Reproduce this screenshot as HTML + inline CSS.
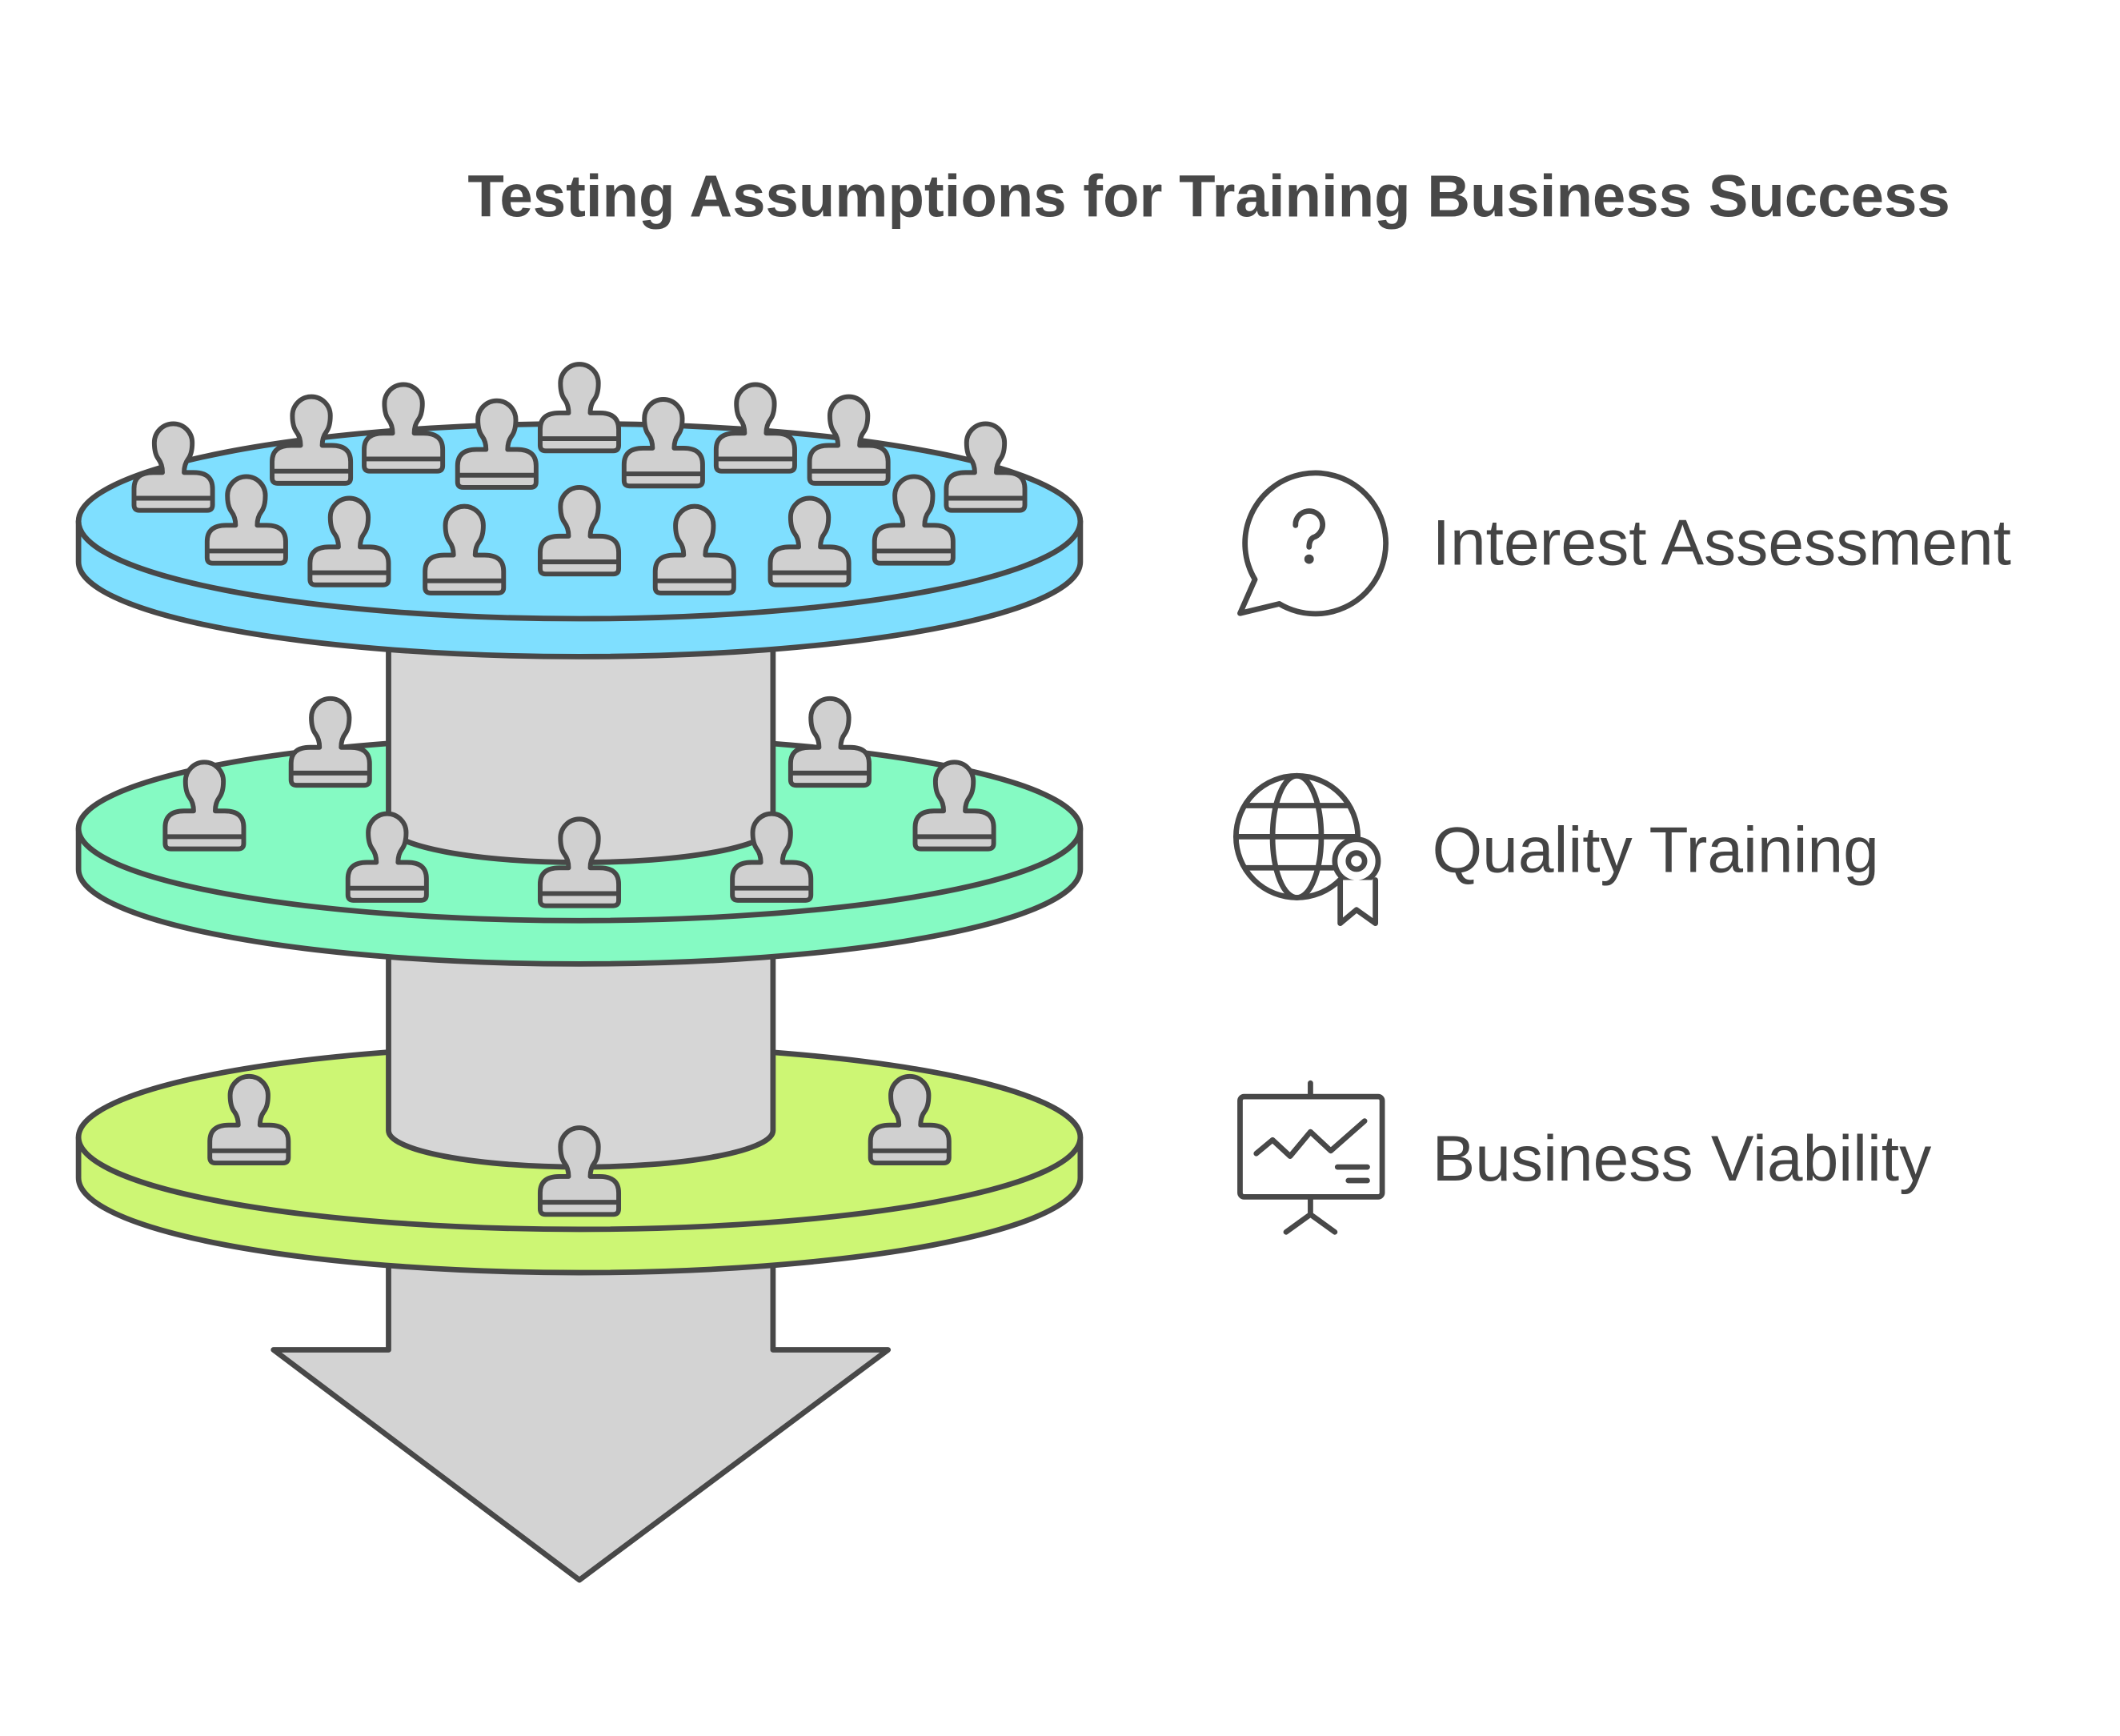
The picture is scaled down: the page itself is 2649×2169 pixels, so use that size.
<!DOCTYPE html>
<html><head><meta charset="utf-8"><style>html,body{margin:0;padding:0;background:#fff}svg{display:block}</style></head>
<body>
<svg width="2649" height="2169" viewBox="0 0 1566 1282.25" xmlns="http://www.w3.org/2000/svg" font-family="Liberation Sans, sans-serif">
<defs>
<g id="p" stroke="#484848" stroke-width="3.5" fill="#d0d0d0" stroke-linejoin="round">
<path d="M-29,-2 V-14 Q-29,-26 -15,-26 H-8 Q-8,-32 -11,-36 Q-14,-40 -14,-48 A14,14 0 0 1 14,-48 Q14,-40 11,-36 Q8,-32 8,-26 H15 Q29,-26 29,-14 V-2 Q29,2 25,2 H-25 Q-29,2 -29,-2 Z"/>
<path d="M-29,-7 H29" fill="none"/>
</g>
</defs>
<text x="893" y="160" text-anchor="middle" font-size="44" font-weight="bold" fill="#484848">Testing Assumptions for Training Business Success</text>
<g stroke="#484848" stroke-width="4" stroke-linejoin="round">
<path d="M287,930 V997 H202 L428,1167 L656,997 H571 V930 Z" fill="#d3d3d3"/>
<path d="M58,840 V870 A370,70 0 0 0 798,870 V840 Z" fill="#cdf674"/>
<ellipse cx="428" cy="840" rx="370" ry="68" fill="#cdf674"/>
<path d="M287,700 V835 A142,27 0 0 0 571,835 V700" fill="#d6d6d6"/>
<path d="M58,612 V642 A370,70 0 0 0 798,642 V612 Z" fill="#85fac3"/>
<ellipse cx="428" cy="612" rx="370" ry="68" fill="#85fac3"/>
<path d="M287,470 V610 A142,27 0 0 0 571,610 V470" fill="#d6d6d6"/>
<path d="M58,385 V415 A370,70 0 0 0 798,415 V385 Z" fill="#7fdfff"/>
<ellipse cx="428" cy="385" rx="370" ry="72" fill="#7fdfff"/>
</g>
<g>
<use href="#p" x="128" y="375"/><use href="#p" x="230" y="355"/><use href="#p" x="298" y="346"/><use href="#p" x="367" y="358"/><use href="#p" x="428" y="331"/><use href="#p" x="490" y="357"/><use href="#p" x="558" y="346"/><use href="#p" x="627" y="355"/><use href="#p" x="728" y="375"/>
<use href="#p" x="182" y="414"/><use href="#p" x="258" y="430"/><use href="#p" x="343" y="436"/><use href="#p" x="428" y="422"/><use href="#p" x="513" y="436"/><use href="#p" x="598" y="430"/><use href="#p" x="675" y="414"/>
<use href="#p" x="244" y="578"/><use href="#p" x="613" y="578"/><use href="#p" x="151" y="625"/><use href="#p" x="705" y="625"/><use href="#p" x="286" y="663"/><use href="#p" x="428" y="667"/><use href="#p" x="570" y="663"/>
<use href="#p" x="184" y="857"/><use href="#p" x="672" y="857"/><use href="#p" x="428" y="895"/>
</g>
<g stroke="#484848" stroke-width="4" fill="none" stroke-linecap="round" stroke-linejoin="round">
<path d="M927,428 A52,52 0 1 1 945,446 L916,453 Z"/>
<path d="M957,388 A10,10 0 1 1 970,397 Q967,399 967,404"/><circle cx="967" cy="413" r="1.5" fill="#484848"/>
<circle cx="958" cy="618" r="45"/><ellipse cx="958" cy="618" rx="18" ry="45"/><path d="M913,618 H1003 M920,595 H996 M920,641 H985"/>
<circle cx="1002" cy="636" r="16" fill="#fff"/><circle cx="1002" cy="636" r="6"/>
<path d="M990,650 V682 L1002,672 L1016,682 V650" fill="#fff"/>
<rect x="916" y="810" width="105" height="74" rx="3"/><path d="M968,800 V810 M968,884 V897 M950,910 L968,897 L986,910 M928,852 L940,842 L953,854 L968,836 L983,850 L1008,828 M988,862 H1010 M996,872 H1010"/>
</g>
<g font-size="47.5" fill="#444">
<text x="1058" y="417">Interest Assessment</text>
<text x="1058" y="644">Quality Training</text>
<text x="1058" y="872">Business Viability</text>
</g>
</svg>
</body></html>
